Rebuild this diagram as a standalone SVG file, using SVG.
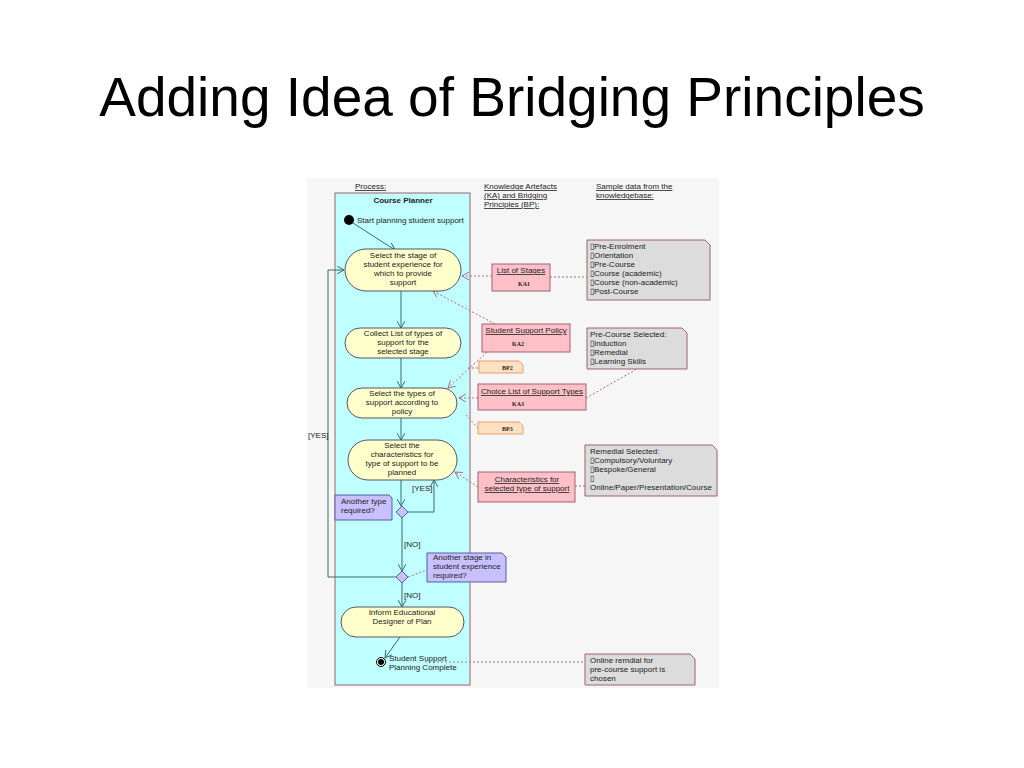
<svg xmlns="http://www.w3.org/2000/svg" width="1024" height="768" viewBox="0 0 1024 768">
<style>
text{font-family:"Liberation Sans",Arial,sans-serif;fill:#222}
.t{font-size:8px}
.act{fill:#ffffcc;stroke:#556;stroke-width:1}
.ka{fill:#ffc0c8;stroke:#a06070;stroke-width:1}
.gn{fill:#dcdcdc;stroke:#a06070;stroke-width:1}
.bp{fill:#ffe0c0;stroke:#e0a070;stroke-width:1}
.pu{fill:#c8c0ff;stroke:#5060a0;stroke-width:1}
.ln{stroke:#3a6a6a;stroke-width:1;fill:none}
.dt{stroke:#b07080;stroke-width:1;stroke-dasharray:2,2;fill:none}
.u{text-decoration:underline}
.kb{font-family:"Liberation Serif",serif;font-size:6px;font-weight:bold}
</style>
<defs>
<marker id="a" markerWidth="8" markerHeight="8" refX="7" refY="4" orient="auto" markerUnits="userSpaceOnUse"><path d="M0,0 L7,4 L0,8" fill="none" stroke="#3a6a6a"/></marker>
<marker id="b" markerWidth="8" markerHeight="8" refX="7" refY="4" orient="auto" markerUnits="userSpaceOnUse"><path d="M0,0 L7,4 L0,8" fill="none" stroke="#b07080"/></marker>
</defs>
<rect width="1024" height="768" fill="#fff"/>
<text x="512" y="116" font-size="55" text-anchor="middle" style="fill:#000">Adding Idea of Bridging Principles</text>
<rect x="307" y="178" width="412" height="510" fill="#f6f6f6"/>
<text class="t u" x="355" y="189">Process:</text>
<text class="t u" x="484" y="189">Knowledge Artefacts</text>
<text class="t u" x="484" y="198">(KA) and Bridging</text>
<text class="t u" x="484" y="207">Principles (BP):</text>
<text class="t u" x="596" y="189">Sample data from the</text>
<text class="t u" x="596" y="198">knowledgebase:</text>
<rect x="335" y="193" width="135" height="492" fill="#c0ffff" stroke="#a06070"/>
<text x="403" y="203" font-size="8" font-weight="bold" text-anchor="middle">Course Planner</text>
<g id="connectors">
<path class="ln" d="M353,223 L395,250" marker-end="url(#a)"/>
<path class="ln" d="M401,291 V328" marker-end="url(#a)"/>
<path class="ln" d="M401,358 V388" marker-end="url(#a)"/>
<path class="ln" d="M401,418 V440" marker-end="url(#a)"/>
<path class="ln" d="M401,480 V506" marker-end="url(#a)"/>
<path class="ln" d="M408,512 H434 V480" marker-end="url(#a)"/>
<path class="ln" d="M402,518 V571" marker-end="url(#a)"/>
<path class="ln" d="M396,577 H328 V270 H344" marker-end="url(#a)"/>
<path class="ln" d="M402,583 V607" marker-end="url(#a)"/>
<path class="ln" d="M400,637 L385,658" marker-end="url(#a)"/>
<path class="dt" d="M492,276 H462" marker-end="url(#b)"/>
<path class="dt" d="M550,277 H587"/>
<path class="dt" d="M495,324 L433,291" marker-end="url(#b)"/>
<path class="dt" d="M487,352 L448,388" marker-end="url(#b)"/>
<path class="dt" d="M468,368 H479"/>
<path class="dt" d="M478,398 H459" marker-end="url(#b)"/>
<path class="dt" d="M586,398 L637,369"/>
<path class="dt" d="M466,415 L478,428"/>
<path class="dt" d="M478,487 L455,472" marker-end="url(#b)"/>
<path class="dt" d="M575,486 H585"/>
<path class="dt" d="M408,577 L427,570"/>
<path class="dt" d="M425,662 H585"/>
</g>
<g id="start"><circle cx="349" cy="220" r="5" fill="#000"/><text class="t" x="357" y="223">Start planning student support</text></g>
<g id="act1"><rect class="act" x="345" y="249" width="116" height="42" rx="21"/>
<text class="t" text-anchor="middle"><tspan x="403" y="258">Select the stage of</tspan><tspan x="403" y="267">student experience for</tspan><tspan x="403" y="276">which to provide</tspan><tspan x="403" y="285">support</tspan></text></g>
<g id="act2"><rect class="act" x="345" y="328" width="116" height="30" rx="15"/>
<text class="t" text-anchor="middle"><tspan x="403" y="336">Collect List of types of</tspan><tspan x="403" y="345">support for the</tspan><tspan x="403" y="354">selected stage</tspan></text></g>
<g id="act3"><rect class="act" x="347" y="388" width="110" height="30" rx="15"/>
<text class="t" text-anchor="middle"><tspan x="402" y="396">Select the types of</tspan><tspan x="402" y="405">support according to</tspan><tspan x="402" y="414">policy</tspan></text></g>
<g id="act4"><rect class="act" x="348" y="440" width="109" height="40" rx="20"/>
<text class="t" text-anchor="middle"><tspan x="402" y="448">Select the</tspan><tspan x="402" y="457">characteristics for</tspan><tspan x="402" y="466">type of support to be</tspan><tspan x="402" y="475">planned</tspan></text></g>
<g id="d1"><path d="M402,506 L408,512 L402,518 L396,512 Z" fill="#c8c0ff" stroke="#5060a0"/></g>
<g id="d2"><path d="M402,571 L408,577 L402,583 L396,577 Z" fill="#c8c0ff" stroke="#5060a0"/></g>
<text class="t" x="412" y="491">[YES]</text>
<text class="t" x="404" y="547">[NO]</text>
<text class="t" x="404" y="598">[NO]</text>
<text class="t" x="308" y="438">[YES]</text>
<g id="act5"><rect class="act" x="341" y="607" width="123" height="30" rx="15"/>
<text class="t" text-anchor="middle"><tspan x="402" y="615">Inform Educational</tspan><tspan x="402" y="624">Designer of Plan</tspan></text></g>
<g id="end"><circle cx="381" cy="662" r="4.5" fill="#fff" stroke="#000"/><circle cx="381" cy="662" r="3" fill="#000"/>
<text class="t"><tspan x="389" y="661">Student Support</tspan><tspan x="389" y="670">Planning Complete</tspan></text></g>
<g id="n1"><path class="pu" d="M335,495 H389 L392,498 V520 H335 Z"/><text class="t"><tspan x="341" y="504">Another type</tspan><tspan x="341" y="513">required?</tspan></text></g>
<g id="n2"><path class="pu" d="M427,553 H502 L506,557 V582 H427 Z"/><text class="t"><tspan x="433" y="560">Another stage in</tspan><tspan x="433" y="569">student experience</tspan><tspan x="433" y="578">required?</tspan></text></g>
<g id="ka1"><rect class="ka" x="492" y="264" width="58" height="27"/><text class="t u" x="521" y="273" text-anchor="middle">List of Stages</text><text class="kb" x="518" y="286">KA1</text></g>
<g id="ka2"><rect class="ka" x="482" y="324" width="88" height="28"/><text class="t u" x="526" y="333" text-anchor="middle">Student Support Policy</text><text class="kb" x="512" y="346">KA2</text></g>
<g id="bp2"><path class="bp" d="M479,361 H519 L523,365 V373 H479 Z"/><text class="kb" x="502" y="370">BP2</text></g>
<g id="ka3"><rect class="ka" x="478" y="384" width="108" height="26"/><text class="t u" x="532" y="394" text-anchor="middle">Choice List of Support Types</text><text class="kb" x="512" y="406">KA3</text></g>
<g id="bp3"><path class="bp" d="M478,422 H519 L523,426 V434 H478 Z"/><text class="kb" x="502" y="431">BP3</text></g>
<g id="ka4"><rect class="ka" x="478" y="472" width="97" height="30"/><text class="t u" text-anchor="middle"><tspan x="527" y="482">Characteristics for</tspan><tspan x="527" y="491">selected type of support</tspan></text></g>
<g id="g1"><path class="gn" d="M587,240 H705 L710,245 V300 H587 Z"/><text class="t"><tspan x="590" y="249">▯Pre-Enrolment</tspan><tspan x="590" y="258">▯Orientation</tspan><tspan x="590" y="267">▯Pre-Course</tspan><tspan x="590" y="276">▯Course (academic)</tspan><tspan x="590" y="285">▯Course (non-academic)</tspan><tspan x="590" y="294">▯Post-Course</tspan></text></g>
<g id="g2"><path class="gn" d="M587,328 H682 L687,333 V369 H587 Z"/><text class="t"><tspan x="590" y="337">Pre-Course Selected:</tspan><tspan x="590" y="346">▯Induction</tspan><tspan x="590" y="355">▯Remedial</tspan><tspan x="590" y="364">▯Learning Skills</tspan></text></g>
<g id="g3"><path class="gn" d="M585,445 H712 L717,450 V496 H585 Z"/><text class="t"><tspan x="590" y="454">Remedial Selected:</tspan><tspan x="590" y="463">▯Compulsory/Voluntary</tspan><tspan x="590" y="472">▯Bespoke/General</tspan><tspan x="590" y="481">▯</tspan><tspan x="590" y="490">Online/Paper/Presentation/Course</tspan></text></g>
<g id="g4"><path class="gn" d="M585,654 H690 L695,659 V685 H585 Z"/><text class="t"><tspan x="590" y="663">Online remdial for</tspan><tspan x="590" y="672">pre-course support is</tspan><tspan x="590" y="681">chosen</tspan></text></g>
</svg>
